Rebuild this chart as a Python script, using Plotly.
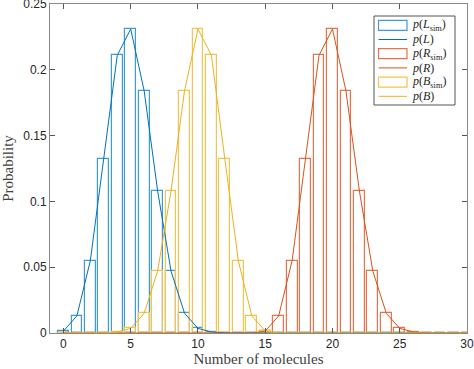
import plotly.graph_objects as go

k = list(range(0, 31))

# probabilities (simulation bars and theoretical lines)
L_sim = [0.0015, 0.013, 0.055, 0.132, 0.211, 0.231, 0.184, 0.108, 0.047, 0.015, 0.0035, 0.0008, 0.0001] + [0]*18
L_th  = [0.0015, 0.013, 0.055, 0.132, 0.211, 0.231, 0.184, 0.108, 0.047, 0.015, 0.0035, 0.0008, 0.0001] + [0]*18
R_sim = [0]*15 + [0.0015, 0.013, 0.055, 0.132, 0.211, 0.231, 0.184, 0.108, 0.047, 0.015, 0.0035, 0.0008, 0.0001, 0, 0, 0]
R_th  = [0]*15 + [0.0015, 0.013, 0.055, 0.132, 0.211, 0.231, 0.184, 0.108, 0.047, 0.015, 0.0035, 0.0008, 0.0001, 0, 0, 0]
B_sim = [0, 0, 0, 0.0001, 0.0008, 0.0035, 0.015, 0.047, 0.108, 0.184, 0.231, 0.211, 0.132, 0.055, 0.013, 0.0015] + [0]*15
B_th  = [0, 0, 0, 0.0001, 0.0008, 0.0035, 0.015, 0.047, 0.108, 0.184, 0.231, 0.211, 0.132, 0.055, 0.013, 0.0015] + [0]*15

x_ticks = [0, 5, 10, 15, 20, 25, 30]
y_ticks = [0, 0.05, 0.1, 0.15, 0.2, 0.25]
y_tick_text = ["0", "0.05", "0.1", "0.15", "0.2", "0.25"]

legend_labels = ["<i>p</i>(<i>L</i><sub>sim</sub>)", "<i>p</i>(<i>L</i>)",
                 "<i>p</i>(<i>R</i><sub>sim</sub>)", "<i>p</i>(<i>R</i>)",
                 "<i>p</i>(<i>B</i><sub>sim</sub>)", "<i>p</i>(<i>B</i>)"]

blue, orange, yellow = "#0072BD", "#D95319", "#EDB120"
blue_b, orange_b, yellow_b = "#3D9BD6", "#E8734A", "#F2C54E"

W, H = 474, 369
ML, MR, MT, MB = 50, 7, 4, 36
PW, PH = W - ML - MR, H - MT - MB

def px(xp):
    return (xp - ML) / PW

def py(yp):
    return (H - MB - yp) / PH

fig = go.Figure()

def add_pair(ysim, yth, cbar, cline, name_sim, name_th):
    fig.add_trace(go.Bar(x=k, y=ysim, width=0.8, name=name_sim, showlegend=False,
                         marker=dict(color="rgba(0,0,0,0)", line=dict(color=cbar, width=1.2))))
    fig.add_trace(go.Scatter(x=k, y=yth, mode="lines", name=name_th, showlegend=False,
                             line=dict(color=cline, width=1)))

add_pair(L_sim, L_th, blue_b, blue, legend_labels[0], legend_labels[1])
add_pair(R_sim, R_th, orange_b, orange, legend_labels[2], legend_labels[3])
add_pair(B_sim, B_th, yellow_b, yellow, legend_labels[4], legend_labels[5])

# custom legend (box, symbols, labels)
shapes = [dict(type="rect", xref="paper", yref="paper", x0=px(374), x1=px(455), y0=py(105), y1=py(16),
               fillcolor="white", line=dict(color="#555555", width=1))]
annotations = []
row_centers = [25.3, 39.5, 53.7, 67.9, 82.1, 96.3]
sym_colors = [blue_b, blue, orange_b, orange, yellow_b, yellow]
for i, (lab, yc, col) in enumerate(zip(legend_labels, row_centers, sym_colors)):
    if i % 2 == 0:
        shapes.append(dict(type="rect", xref="paper", yref="paper", x0=px(378.5), x1=px(407),
                           y0=py(yc + 5), y1=py(yc - 5), fillcolor="rgba(0,0,0,0)",
                           line=dict(color=col, width=1.2)))
    else:
        shapes.append(dict(type="line", xref="paper", yref="paper", x0=px(378.5), x1=px(407),
                           y0=py(yc), y1=py(yc), line=dict(color=col, width=1)))
    annotations.append(dict(x=px(409.5), y=py(yc), xref="paper", yref="paper", text=lab,
                            showarrow=False, xanchor="left", yanchor="middle",
                            font=dict(family="Liberation Serif, DejaVu Serif", size=12, color="#262626")))

axis_common = dict(showgrid=False, zeroline=False, showline=True, linecolor="#8a8a8a",
                   linewidth=1, mirror="ticks", ticks="inside", ticklen=5, tickcolor="#555555",
                   tickfont=dict(family="Liberation Sans, Arial", size=12, color="#262626"),
                   automargin=False, ticklabeloverflow="allow")

fig.update_layout(
    width=W, height=H,
    margin=dict(l=ML, r=MR, t=MT, b=MB),
    paper_bgcolor="white", plot_bgcolor="white",
    barmode="overlay", bargap=0,
    xaxis=dict(range=[-1, 30], tickvals=x_ticks,
               title=dict(text="Number of molecules", standoff=2,
                          font=dict(family="Liberation Serif, DejaVu Serif", size=15, color="#404040")),
               **axis_common),
    yaxis=dict(range=[0, 0.25], tickvals=y_ticks, ticktext=y_tick_text,
               title=dict(text="Probability", standoff=6,
                          font=dict(family="Liberation Serif, DejaVu Serif", size=15, color="#404040")),
               **axis_common),
    shapes=shapes,
    annotations=annotations,
    showlegend=False,
)

fig.write_html("out.html", config={"displayModeBar": False},
               post_script="document.body.style.margin='0';document.body.style.overflow='hidden';")
